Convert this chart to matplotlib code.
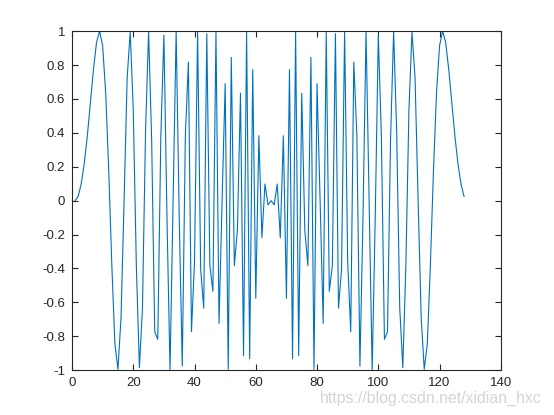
import matplotlib
matplotlib.use('Agg')
import matplotlib.pyplot as plt

# sample index (1-based, as in the original plot) and signal values
x = list(range(1, 129))
y = [
    0.000, 0.025, 0.098, 0.219, 0.383, 0.576, 0.773, 0.933,
    1.000, 0.914, 0.634, 0.171, -0.383, -0.845, -0.995, -0.690,
    0.000, 0.724, 0.995, 0.535, -0.383, -0.985, -0.634, 0.405,
    1.000, 0.360, -0.773, -0.818, 0.383, 0.976, -0.098, -1.000,
    0.000, 1.000, -0.098, -0.976, 0.383, 0.818, -0.773, -0.360,
    1.000, -0.405, -0.634, 0.985, -0.383, -0.535, 0.995, -0.724,
    0.000, 0.690, -0.995, 0.845, -0.383, -0.171, 0.634, -0.914,
    1.000, -0.933, 0.773, -0.576, 0.383, -0.219, 0.098, -0.025,
    0.000, -0.025, 0.098, -0.219, 0.383, -0.576, 0.773, -0.933,
    1.000, -0.914, 0.634, -0.171, -0.383, 0.845, -0.995, 0.690,
    0.000, -0.724, 0.995, -0.535, -0.383, 0.985, -0.634, -0.405,
    1.000, -0.360, -0.773, 0.818, 0.383, -0.976, -0.098, 1.000,
    0.000, -1.000, -0.098, 0.976, 0.383, -0.818, -0.773, 0.360,
    1.000, 0.405, -0.634, -0.985, -0.383, 0.535, 0.995, 0.724,
    0.000, -0.690, -0.995, -0.845, -0.383, 0.171, 0.634, 0.914,
    1.000, 0.933, 0.773, 0.576, 0.383, 0.219, 0.098, 0.025,
]

xticks = [0, 20, 40, 60, 80, 100, 120, 140]
yticks = [-1, -0.8, -0.6, -0.4, -0.2, 0, 0.2, 0.4, 0.6, 0.8, 1]
ytick_labels = ['-1', '-0.8', '-0.6', '-0.4', '-0.2', '0', '0.2', '0.4', '0.6', '0.8', '1']

plt.rcParams['font.family'] = ['Liberation Sans', 'DejaVu Sans']

fig = plt.figure(figsize=(5.54, 4.15), dpi=100)
ax = fig.add_axes([0.130, 0.108, 0.774, 0.817])
ax.plot(x, y, color='#0072BD', linewidth=0.8)

ax.set_xlim(0, 140)
ax.set_ylim(-1, 1)
ax.set_xticks(xticks)
ax.set_yticks(yticks)
ax.set_yticklabels(ytick_labels)

axis_color = '#262626'
for s in ax.spines.values():
    s.set_color(axis_color)
    s.set_linewidth(0.8)
ax.tick_params(direction='in', length=4, width=0.8, colors=axis_color,
               labelsize=9.5, top=True, right=True, labeltop=False, labelright=False)
ax.tick_params(axis='x', pad=5)
ax.tick_params(axis='y', pad=5)

# watermark from the source image
fig.text(0.977, 0.022, 'https://blog.csdn.net/xidian_hxc', ha='right', va='bottom',
         color='#d4d4d4', fontsize=11.4)

fig.savefig('out.png', dpi=100)
